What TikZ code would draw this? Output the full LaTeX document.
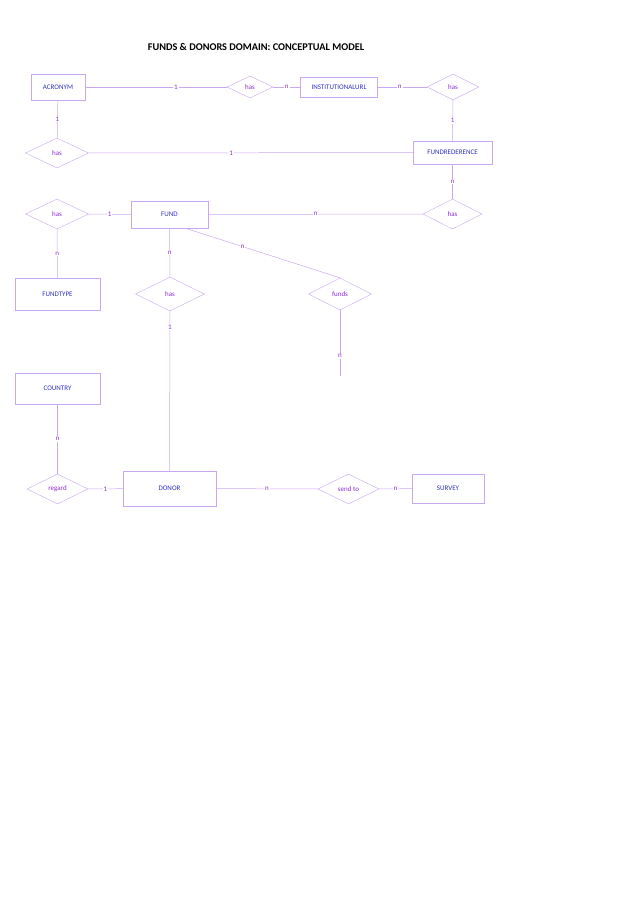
\documentclass[tikz,border=0pt]{standalone}
\usepackage{fontspec}
\setmainfont{Carlito}
\usetikzlibrary{shapes.geometric}
\definecolor{ln}{HTML}{C8A8F0}
\definecolor{ent}{HTML}{3030C8}
\definecolor{rel}{HTML}{8A2BD0}
\begin{document}
\begin{tikzpicture}[x=1pt,y=-1pt,
 entity/.style={draw=ln,text=ent,font=\fontsize{7}{8}\selectfont,minimum width=#1,minimum height=26pt,inner sep=0pt},
 relation/.style={draw=ln,text=rel,diamond,aspect=2,font=\fontsize{7}{8}\selectfont,minimum width=#1,minimum height=28pt,inner sep=0pt},
 card/.style={fill=white,text=rel,font=\fontsize{7}{8}\selectfont,inner sep=1pt},
 conn/.style={draw=ln,line width=0.5pt}]
\useasboundingbox (0,0) rectangle (638,903);
\node[font=\bfseries\fontsize{10.3}{11}\selectfont] (title) at (256,47) {FUNDS \& DONORS DOMAIN: CONCEPTUAL MODEL};
\node[entity=54pt] (acr) at (58,87) {ACRONYM};
\node[entity=77pt,minimum height=20pt] (url) at (339,87) {INSTITUTIONALURL};
\node[relation=46pt,minimum height=22pt] (h1) at (250,87) {has};
\node[relation=52pt,minimum height=26pt] (h2) at (453,87) {has};
\node[relation=63pt,minimum height=30pt] (h3) at (57,153) {has};
\node[entity=79pt,minimum height=23pt] (fr) at (452.5,152.5) {FUNDREDERENCE};
\node[relation=59pt,minimum height=30pt] (h4) at (452.5,214) {has};
\node[relation=63pt,minimum height=30pt] (h5) at (57,214) {has};
\node[entity=77pt,minimum height=27pt] (fund) at (169.5,214.5) {FUND};
\node[entity=85pt,minimum height=32pt] (ft) at (57.5,294) {FUNDTYPE};
\node[relation=69pt,minimum height=34pt] (h6) at (170,294) {has};
\node[relation=63pt,minimum height=32pt] (funds) at (340,294) {funds};
\coordinate (fend) at (340,376);
\node[entity=85pt,minimum height=31pt] (cty) at (57.5,388.5) {COUNTRY};
\node[relation=61pt,minimum height=30pt] (reg) at (57.5,489) {regard};
\node[entity=93pt,minimum height=35pt] (don) at (169.5,488.5) {DONOR};
\node[relation=61pt,minimum height=30pt] (snd) at (348.5,489) {send to};
\node[entity=72pt,minimum height=29pt] (sur) at (448,488.5) {SURVEY};
\draw[conn] (acr) -- node[card,pos=0.64]{1} (h1);
\draw[conn] (h1) -- node[card]{n} (url);
\draw[conn] (url) -- node[card,pos=0.45]{n} (h2);
\draw[conn] (h2) -- node[card]{1} (fr);
\draw[conn] (acr) -- node[card,pos=0.5]{1} (h3);
\draw[conn] (h3) -- node[card,pos=0.44]{1} (fr);
\draw[conn] (fr) -- node[card]{n} (h4);
\draw[conn] (h5) -- node[card]{1} (fund);
\draw[conn] (fund) -- node[card]{n} (h4);
\draw[conn] (h5) -- node[card]{n} (ft);
\draw[conn] (fund) -- node[card]{n} (h6);
\draw[conn] (h6) -- node[card,pos=0.1]{1} (don);
\draw[conn] (fund.south east)++(-23,0) coordinate (fa) -- node[card,pos=0.37]{n} (funds.north);
\draw[conn] (funds) -- node[card,pos=0.7]{n} (fend);
\draw[conn] (cty) -- node[card,pos=0.5]{n} (reg);
\draw[conn] (reg) -- node[card]{1} (don);
\draw[conn] (don) -- node[card,pos=0.5]{n} (snd);
\draw[conn] (snd) -- node[card]{n} (sur);
\end{tikzpicture}
\end{document}
